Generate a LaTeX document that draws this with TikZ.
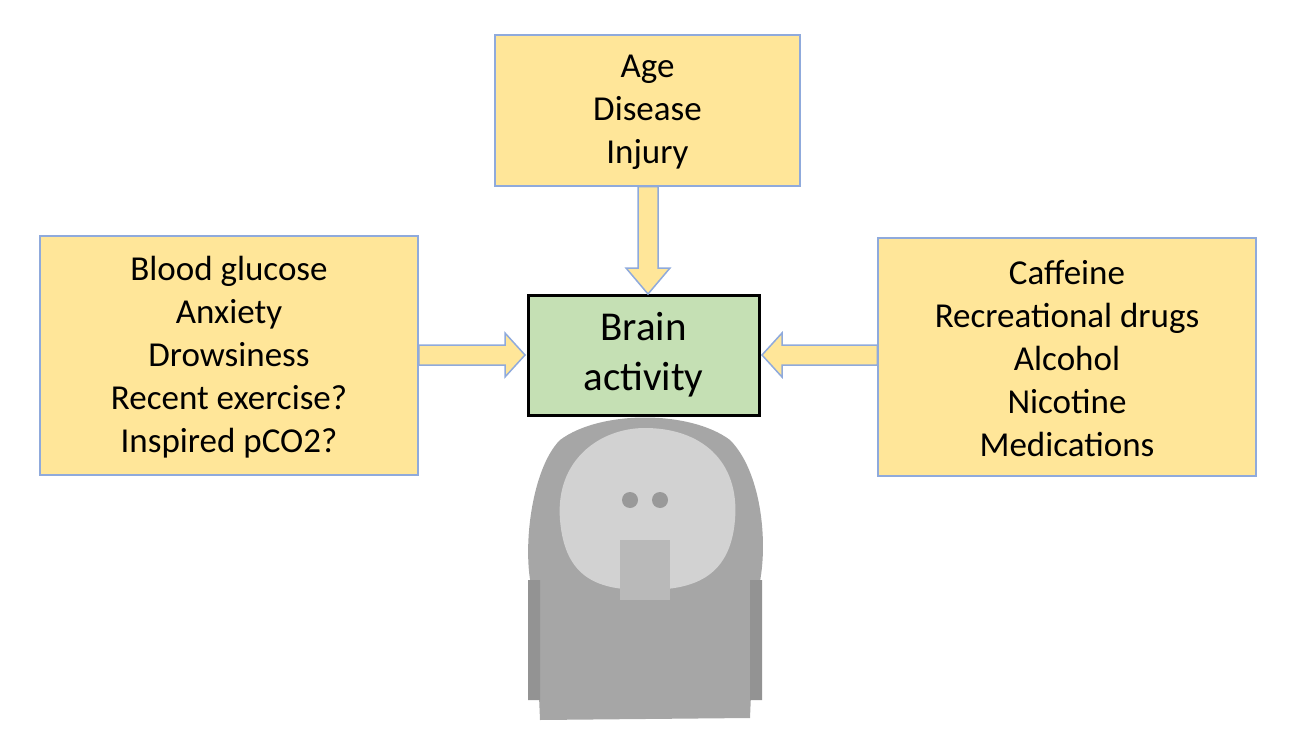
\documentclass[tikz,border=0pt]{standalone}
\usepackage{fontspec}
\setmainfont{Carlito}
\begin{document}
\begin{tikzpicture}[x=1pt,y=-1pt,
  ybox/.style={draw={rgb,255:red,143;green,170;blue,220}, line width=1.5pt, fill={rgb,255:red,255;green,230;blue,153}, inner sep=0pt},
  ytext/.style={align=center, font=\fontsize{35}{43}\selectfont},
  barrow/.style={draw={rgb,255:red,143;green,170;blue,220}, line width=1.5pt, fill={rgb,255:red,255;green,230;blue,153}, line join=miter}]
\useasboundingbox (0,0) rectangle (1296,749);
% brain scan approximation
\fill[gray!70] (540,720) -- (535,600) .. controls (520,560) and (530,470) .. (560,440) .. controls (600,410) and (690,410) .. (730,440) .. controls (765,475) and (770,560) .. (755,600) -- (750,718) -- cycle;
\fill[gray!35] (560,520) .. controls (555,460) and (600,428) .. (645,428) .. controls (700,428) and (740,460) .. (735,520) .. controls (730,580) and (690,590) .. (645,590) .. controls (600,590) and (565,580) .. (560,520) -- cycle;
\fill[gray!80] (630,500) circle (8) (660,500) circle (8);
\fill[gray!55] (620,540) rectangle (670,600);
\fill[gray!85] (528,580) rectangle (540,700) (750,580) rectangle (762,700);
% boxes
\node[ybox, minimum width=305, minimum height=151] (top) at (647.5,110.5) {};
\node[ytext] at ([yshift=-2]top) {Age\\Disease\\Injury};
\node[ybox, minimum width=378, minimum height=239] (left) at (229,355.5) {};
\node[ytext] at ([yshift=-2]left) {Blood glucose\\Anxiety\\Drowsiness\\Recent exercise?\\Inspired pCO2?};
\node[ybox, minimum width=378, minimum height=238] (right) at (1067,357) {};
\node[ytext] at ([yshift=-2]right) {Caffeine\\Recreational drugs\\Alcohol\\Nicotine\\Medications};
\node[draw=black, line width=3pt, fill={rgb,255:red,197;green,224;blue,180}, minimum width=231, minimum height=120, align=center, font=\fontsize{41}{50}\selectfont] (brain) at (643.5,355) {Brain\\activity};
% block arrows
\draw[barrow] (638,186.5) -- (638,268) -- (626,268) -- (648,294) -- (670,268) -- (658,268) -- (658,186.5) -- cycle;
\draw[barrow] (left.east |- 0,345) -- (505,345) -- (505,333) -- ([xshift=-1.5]brain.west) -- (505,377) -- (505,365) -- (left.east |- 0,365) -- cycle;
\draw[barrow] (right.west |- 0,345) -- (782,345) -- (782,333) -- ([xshift=1.5]brain.east) -- (782,377) -- (782,365) -- (right.west |- 0,365) -- cycle;
\end{tikzpicture}
\end{document}
